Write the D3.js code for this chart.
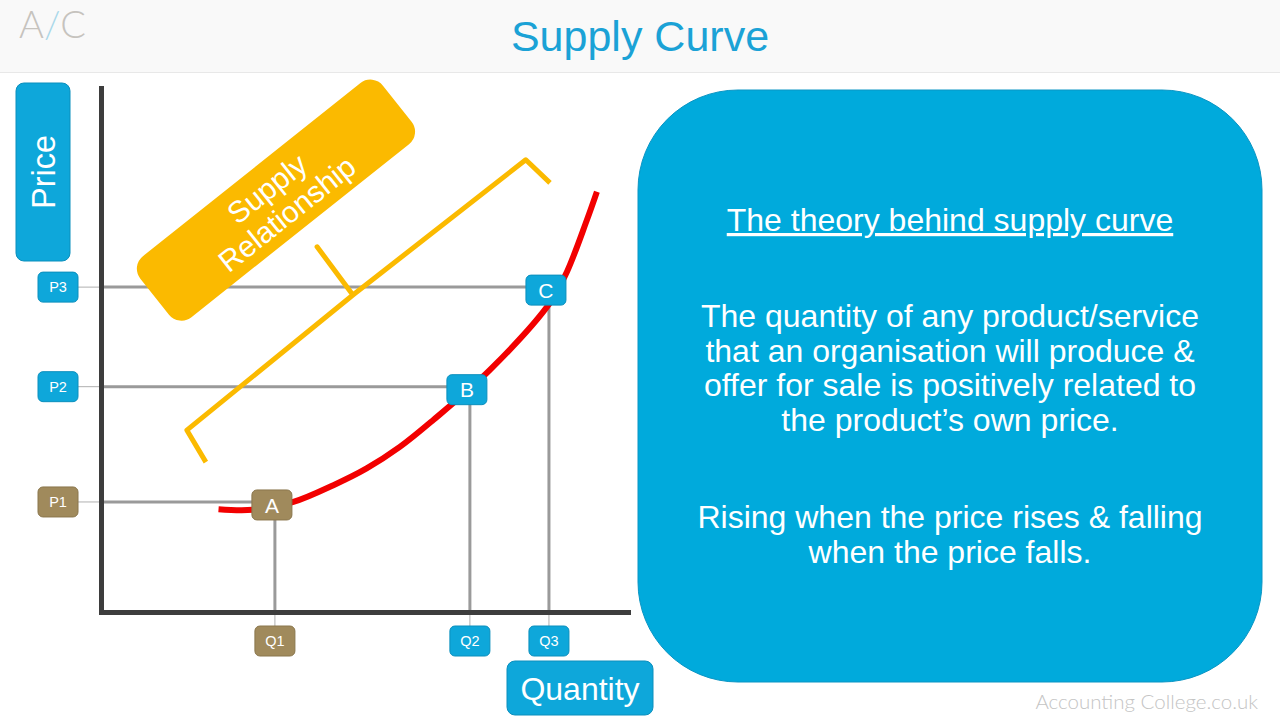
<!DOCTYPE html>
<html>
<head>
<meta charset="utf-8">
<script src="https://d3js.org/d3.v7.min.js"></script>
<style>
  html, body { margin: 0; padding: 0; background: #fff; }
  svg { display: block; font-family: "Liberation Sans", Arial, sans-serif; }
</style>
</head>
<body>
<svg id="chart" width="1280" height="720"></svg>
<script>
// price levels and quantity levels (chart units 0-100)
const priceLabels = ["P1", "P2", "P3"];
const priceLevels = [21, 43, 62];
const quantityLabels = ["Q1", "Q2", "Q3"];
const quantityLevels = [33, 70, 85];
const pointLabels = ["A", "B", "C"];

// supply curve
const supplyQ = [22.3, 28.8, 36.5, 44.1, 50.4, 56.7, 63, 73.8, 85.2, 88.4, 92.2, 94.1];
const supplyP = [19.6, 19.5, 21, 24.2, 27.4, 31.5, 36.6, 46.2, 59, 64.9, 74.8, 80.2];

// bracket annotation (q, p)
const bracketQ = [19.9, 16.3, 47.8, 41, 47.8, 80.6, 85.2];
const bracketP = [28.6, 34.7, 60.5, 69.7, 60.5, 86.3, 81.9];

// "Supply Relationship" tag centre
const tagQ = 33.2;
const tagP = 78.6;
const tagLines = ["Supply", "Relationship"];

const title = "Supply Curve";
const boxTitle = "The theory behind supply curve";
const boxPara1 = ["The quantity of any product/service", "that an organisation will produce &", "offer for sale is positively related to", "the product\u2019s own price."];
const boxPara2 = ["Rising when the price rises & falling", "when the price falls."];

const blue = "#0ea7da";
const blueDark = "#0b8fbd";
const tan = "#a08a5c";
const tanDark = "#8a764c";
const yellow = "#fbba00";

const svg = d3.select("#chart");

const x = d3.scaleLinear().domain([0, 100]).range([101, 628]);
const y = d3.scaleLinear().domain([0, 100]).range([612, 88]);

// header band
svg.append("rect").attr("x", 0).attr("y", 0).attr("width", 1280).attr("height", 72).attr("fill", "#f9f9f9");
svg.append("line").attr("x1", 0).attr("x2", 1280).attr("y1", 72.5).attr("y2", 72.5).attr("stroke", "#e8e8e8");

// logo
const logo = svg.append("text").attr("x", 19).attr("y", 38)
  .attr("font-family", "Lato, 'Open Sans', sans-serif").attr("font-size", 38).attr("font-weight", 300);
logo.append("tspan").attr("fill", "#c6c3be").text("A");
logo.append("tspan").attr("fill", "#a9d8ea").text("/");
logo.append("tspan").attr("fill", "#c6c3be").text("C");

svg.append("text").attr("x", 640).attr("y", 51).attr("text-anchor", "middle")
  .attr("font-size", 43).attr("fill", "#1ba2d6").text(title);

// footer
svg.append("text").attr("x", 1258).attr("y", 709).attr("text-anchor", "end")
  .attr("font-family", "Lato, 'Open Sans', sans-serif").attr("font-weight", 300)
  .attr("font-size", 20.5).attr("fill", "#c4c4c4").text("Accounting College.co.uk");

// guide lines
const guides = svg.append("g");
priceLevels.forEach((p, i) => {
  const q = quantityLevels[i];
  guides.append("line").attr("x1", 78).attr("x2", x(0)).attr("y1", y(p)).attr("y2", y(p))
    .attr("stroke", "#b0b0b0").attr("stroke-width", 1);
  guides.append("line").attr("x1", x(0)).attr("x2", x(q)).attr("y1", y(p)).attr("y2", y(p))
    .attr("stroke", "#9a9a9a").attr("stroke-width", 3);
  guides.append("line").attr("x1", x(q)).attr("x2", x(q)).attr("y1", y(p)).attr("y2", y(0))
    .attr("stroke", "#9a9a9a").attr("stroke-width", 3);
  guides.append("line").attr("x1", x(q)).attr("x2", x(q)).attr("y1", y(0)).attr("y2", 627)
    .attr("stroke", "#b0b0b0").attr("stroke-width", 1);
});

// axes (domain lines only)
const axX = svg.append("g").attr("transform", `translate(0,${y(0)})`)
  .call(d3.axisBottom(x).tickValues([]).tickSizeOuter(0));
const axY = svg.append("g").attr("transform", `translate(${x(0)},0)`)
  .call(d3.axisLeft(y).tickValues([]).tickSizeOuter(0));
[axX, axY].forEach(a => a.select(".domain").attr("stroke", "#3d3d3d").attr("stroke-width", 5).attr("stroke-linecap", "square"));

// Supply Relationship tag
const tag = svg.append("g").attr("transform", `translate(${x(tagQ)},${y(tagP)}) rotate(-38.5)`);
tag.append("rect").attr("x", -155).attr("y", -39).attr("width", 310).attr("height", 78).attr("rx", 16)
  .attr("fill", yellow);
tag.selectAll("text.tag").data(tagLines).enter().append("text")
  .attr("class", "tag").attr("x", 0).attr("y", (d, i) => -4 + i * 32)
  .attr("text-anchor", "middle").attr("fill", "#fff").attr("font-size", 30).text(d => d);

// bracket
const bracketLine = d3.line().x(d => x(d[0])).y(d => y(d[1]));
svg.append("path").datum(bracketQ.map((q, i) => [q, bracketP[i]]))
  .attr("d", bracketLine).attr("fill", "none").attr("stroke", yellow).attr("stroke-width", 5)
  .attr("stroke-linejoin", "round");

// supply curve
const curve = d3.line().x(d => x(d[0])).y(d => y(d[1])).curve(d3.curveCatmullRom.alpha(0.5));
svg.append("path").datum(supplyQ.map((q, i) => [q, supplyP[i]]))
  .attr("d", curve).attr("fill", "none").attr("stroke", "#f20000").attr("stroke-width", 6);

// label boxes
function labelBox(cx, cy, w, h, txt, fill, stroke, fs) {
  const g = svg.append("g").attr("transform", `translate(${cx},${cy})`);
  g.append("rect").attr("x", -w / 2).attr("y", -h / 2).attr("width", w).attr("height", h).attr("rx", 5)
    .attr("fill", fill).attr("stroke", stroke).attr("stroke-width", 1);
  g.append("text").attr("y", fs * 0.36).attr("text-anchor", "middle").attr("fill", "#fff")
    .attr("font-size", fs).text(txt);
}

priceLabels.forEach((lab, i) => {
  const c = i === 0 ? [tan, tanDark] : [blue, blueDark];
  labelBox(58, y(priceLevels[i]), 40, 30, lab, c[0], c[1], 14.5);
});
quantityLabels.forEach((lab, i) => {
  const c = i === 0 ? [tan, tanDark] : [blue, blueDark];
  labelBox(x(quantityLevels[i]), 641, 40, 30, lab, c[0], c[1], 14.5);
});
pointLabels.forEach((lab, i) => {
  const c = i === 0 ? [tan, tanDark] : [blue, blueDark];
  labelBox(x(quantityLevels[i]) - 3, y(priceLevels[i]) + 3, 40, 30, lab, c[0], c[1], 21);
});

// axis titles
const priceBox = svg.append("g").attr("transform", "translate(43,172)");
priceBox.append("rect").attr("x", -27).attr("y", -89).attr("width", 54).attr("height", 178).attr("rx", 8)
  .attr("fill", blue).attr("stroke", blueDark);
priceBox.append("text").attr("transform", "rotate(-90)").attr("y", 11.5).attr("text-anchor", "middle")
  .attr("fill", "#fff").attr("font-size", 32.5).text("Price");

const qtyBox = svg.append("g").attr("transform", "translate(580,688)");
qtyBox.append("rect").attr("x", -73).attr("y", -27).attr("width", 146).attr("height", 54).attr("rx", 8)
  .attr("fill", blue).attr("stroke", blueDark);
qtyBox.append("text").attr("y", 11.5).attr("text-anchor", "middle")
  .attr("fill", "#fff").attr("font-size", 32).text("Quantity");

// theory panel
const panel = svg.append("g");
panel.append("rect").attr("x", 638).attr("y", 90).attr("width", 624).attr("height", 592).attr("rx", 100)
  .attr("fill", "#00aadc").attr("stroke", "#0a95c4").attr("stroke-width", 1);
panel.append("text").attr("x", 950).attr("y", 231).attr("text-anchor", "middle")
  .attr("fill", "#fff").attr("font-size", 32).attr("text-decoration", "underline").text(boxTitle);
panel.selectAll("text.p1").data(boxPara1).enter().append("text").attr("class", "p1")
  .attr("x", 950).attr("y", (d, i) => 327 + i * 34.5).attr("text-anchor", "middle")
  .attr("fill", "#fff").attr("font-size", 32).text(d => d);
panel.selectAll("text.p2").data(boxPara2).enter().append("text").attr("class", "p2")
  .attr("x", 950).attr("y", (d, i) => 528 + i * 34.5).attr("text-anchor", "middle")
  .attr("fill", "#fff").attr("font-size", 32).text(d => d);
</script>
</body>
</html>
